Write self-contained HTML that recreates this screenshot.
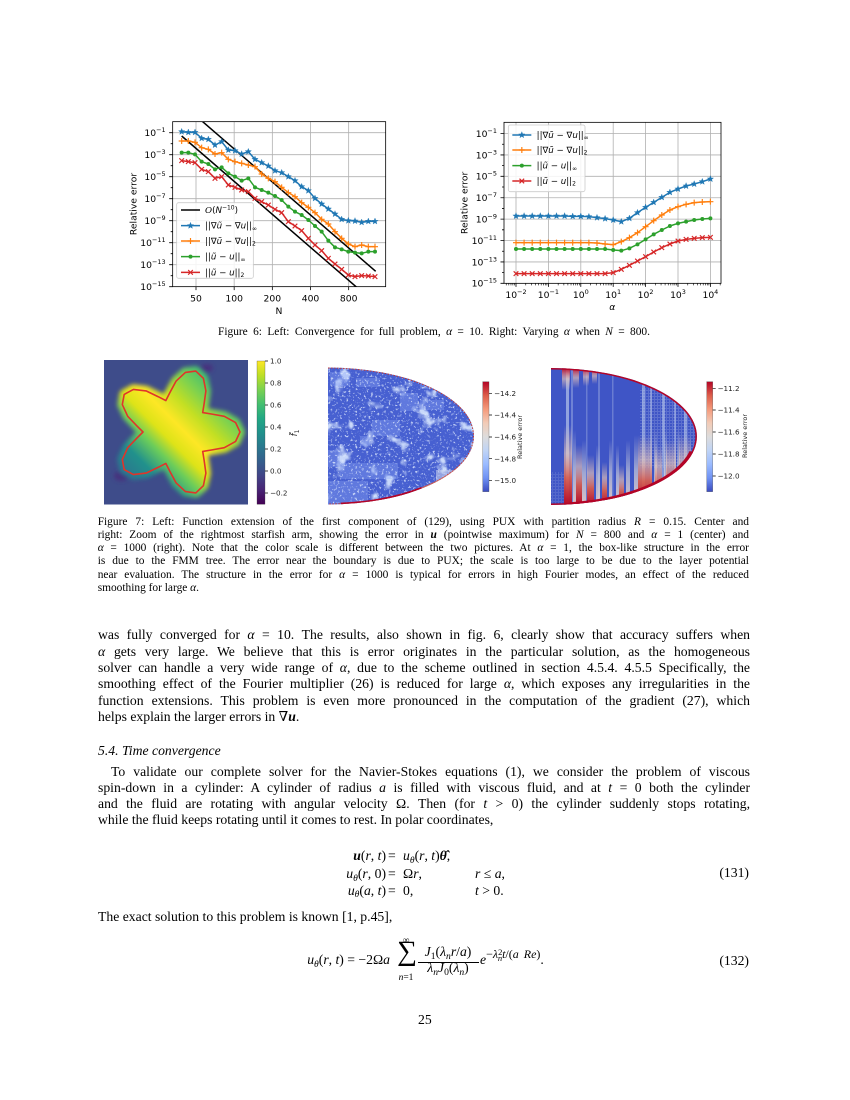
<!DOCTYPE html>
<html><head><meta charset="utf-8">
<style>
html,body{margin:0;padding:0;background:#fff;}
body{width:850px;height:1100px;position:relative;overflow:hidden;font-family:"Liberation Serif","DejaVu Serif",serif;color:#000;}
.l{position:absolute;white-space:nowrap;}
.j{text-align:justify;text-align-last:justify;}
.cap{font-size:11.4px;line-height:13.1px;}
.bd{font-size:13.7px;line-height:16.3px;}
.sb{font-size:0.7em;position:relative;top:0.3em;}
.sp{font-size:0.7em;position:relative;top:-0.45em;}
.sm{font-size:9.5px;line-height:10px;}
</style></head><body>
<svg width="850" height="1100" viewBox="0 0 850 1100" xmlns="http://www.w3.org/2000/svg" style="position:absolute;left:0;top:0">
<defs>
 <marker id="mStar" markerUnits="userSpaceOnUse" markerWidth="30" markerHeight="30" viewBox="0 0 30 30" refX="15" refY="15" overflow="visible"><polygon points="15,5 17.47,11.6 24.51,11.91 18.99,16.3 20.88,23.09 15,19.2 9.12,23.09 11.01,16.3 5.49,11.91 12.53,11.6" fill="#1f77b4" stroke="#1f77b4" stroke-width="1"/></marker>
 <marker id="mPlus" markerUnits="userSpaceOnUse" markerWidth="30" markerHeight="30" viewBox="0 0 30 30" refX="15" refY="15" overflow="visible"><path d="M6 15H24M15 6V24" stroke="#ff7f0e" stroke-width="3.5"/></marker>
 <marker id="mDot" markerUnits="userSpaceOnUse" markerWidth="30" markerHeight="30" viewBox="0 0 30 30" refX="15" refY="15" overflow="visible"><circle cx="15" cy="15" r="6" fill="#2ca02c"/></marker>
 <marker id="mX" markerUnits="userSpaceOnUse" markerWidth="30" markerHeight="30" viewBox="0 0 30 30" refX="15" refY="15" overflow="visible"><path d="M8 8L22 22M22 8L8 22" stroke="#d62728" stroke-width="3.5"/></marker>
 <clipPath id="clipL"><rect x="158" y="35" width="639" height="495"/></clipPath>
 <clipPath id="clipR"><rect x="147" y="37" width="651" height="483"/></clipPath>
 <clipPath id="clipS"><rect x="104" y="360" width="144" height="144.5"/></clipPath>
 <clipPath id="clipC"><path d="M328,367.5 A146,68.5 0 0 1 328,504.5 Z"/></clipPath>
 <clipPath id="clipH"><path d="M551,368 A146,68.5 0 0 1 551,505 Z"/></clipPath>
 <linearGradient id="vir" x1="0" y1="0" x2="0" y2="1">
  <stop offset="0" stop-color="#fde725"/><stop offset="0.1" stop-color="#bddf26"/><stop offset="0.2" stop-color="#7ad151"/><stop offset="0.3" stop-color="#44bf70"/><stop offset="0.4" stop-color="#22a884"/><stop offset="0.5" stop-color="#21918c"/><stop offset="0.6" stop-color="#2a788e"/><stop offset="0.7" stop-color="#355f8d"/><stop offset="0.8" stop-color="#414487"/><stop offset="0.9" stop-color="#482475"/><stop offset="1" stop-color="#440154"/>
 </linearGradient>
 <linearGradient id="cw" x1="0" y1="0" x2="0" y2="1">
  <stop offset="0" stop-color="#b40426"/><stop offset="0.125" stop-color="#dc5d4a"/><stop offset="0.25" stop-color="#f49a7b"/><stop offset="0.375" stop-color="#f2cbb7"/><stop offset="0.5" stop-color="#dddcdc"/><stop offset="0.625" stop-color="#c0d4f5"/><stop offset="0.75" stop-color="#9abbff"/><stop offset="0.875" stop-color="#6f92f3"/><stop offset="1" stop-color="#3b4cc0"/>
 </linearGradient>
 <linearGradient id="gStar" gradientUnits="userSpaceOnUse" x1="130.7" y1="477.3" x2="221.3" y2="386.7">
  <stop offset="0" stop-color="#2a788e"/><stop offset="0.15" stop-color="#21918c"/><stop offset="0.3" stop-color="#6ccd5a"/><stop offset="0.42" stop-color="#dde318"/><stop offset="0.55" stop-color="#fde725"/><stop offset="0.7" stop-color="#c2df23"/><stop offset="0.85" stop-color="#7ad151"/><stop offset="1" stop-color="#3bbb75"/>
 </linearGradient>
 <linearGradient id="gRedUp" x1="0" y1="0" x2="0" y2="1"><stop offset="0" stop-color="#f2cbb7" stop-opacity="0"/><stop offset="0.35" stop-color="#f2cbb7" stop-opacity="0.6"/><stop offset="0.65" stop-color="#dc5d4a" stop-opacity="0.9"/><stop offset="1" stop-color="#b40426" stop-opacity="1"/></linearGradient>
 <linearGradient id="gLightUp" x1="0" y1="0" x2="0" y2="1"><stop offset="0" stop-color="#dddcdc" stop-opacity="0"/><stop offset="0.5" stop-color="#dddcdc" stop-opacity="0.6"/><stop offset="1" stop-color="#eed0c4" stop-opacity="0.9"/></linearGradient>
 <linearGradient id="gRedDown" x1="0" y1="0" x2="0" y2="1"><stop offset="0" stop-color="#b40426" stop-opacity="1"/><stop offset="0.5" stop-color="#f2cbb7" stop-opacity="0.6"/><stop offset="1" stop-color="#f2cbb7" stop-opacity="0"/></linearGradient>
 <pattern id="pgrid" width="3" height="3" patternUnits="userSpaceOnUse"><rect width="3" height="1" fill="#c8d2ee"/><rect width="1" height="3" fill="#c8d2ee"/></pattern>
 <filter id="blur3" x="-20%" y="-20%" width="140%" height="140%"><feGaussianBlur stdDeviation="2.2"/></filter>
 <filter id="blur2" x="-50%" y="-50%" width="200%" height="200%"><feGaussianBlur stdDeviation="2"/></filter>
 <filter id="speck" x="0" y="0" width="1" height="1"><feTurbulence type="fractalNoise" baseFrequency="0.45" numOctaves="2" seed="7"/><feColorMatrix type="matrix" values="0 0 0 0 0.7  0 0 0 0 0.78  0 0 0 0 0.97  6 0 0 0 -3.5"/></filter>
 <filter id="blot" x="0" y="0" width="1" height="1"><feTurbulence type="fractalNoise" baseFrequency="0.06" numOctaves="3" seed="3"/><feColorMatrix type="matrix" values="0 0 0 0 0.58  0 0 0 0 0.69  0 0 0 0 0.96  6 0 0 0 -3.6"/></filter>
</defs>

<!-- ============ LEFT PLOT ============ -->
<g transform="translate(120,110) scale(0.3333333)" font-family="DejaVu Sans" fill="#000">
 <g stroke="#b0b0b0" stroke-width="2.4">
  <path d="M228 35V530M342.5 35V530M457 35V530M571.5 35V530M686 35V530"/>
  <path d="M158 68H797M158 134H797M158 200H797M158 266H797M158 332H797M158 398H797M158 464H797"/>
 </g>
 <g clip-path="url(#clipL)" fill="none" stroke-linejoin="round">
  <polyline points="185,-19.5 767,484" stroke="#000" stroke-width="4.5"/>
  <polyline points="185,78 767,581" stroke="#000" stroke-width="4.5"/>
  <polyline stroke="#1f77b4" stroke-width="4.5" marker-start="url(#mStar)" marker-mid="url(#mStar)" marker-end="url(#mStar)" points="185,65 205,67 225,67 245,85 265,88 285,105 305,95 325,120 345,122 365,132 385,125 405,148 425,158 445,168 465,182 485,188 505,200 525,212 545,230 565,242 585,265 605,282 625,297 645,312 665,328 685,332 705,333 725,337 745,334 765,334"/>
  <polyline stroke="#ff7f0e" stroke-width="4.5" marker-start="url(#mPlus)" marker-mid="url(#mPlus)" marker-end="url(#mPlus)" points="185,93 205,93 225,97 245,113 265,118 285,132 305,128 325,148 345,155 365,160 385,165 405,170 425,192 445,205 465,215 485,232 505,248 525,260 545,278 565,292 585,308 605,328 625,342 645,365 665,385 685,402 705,410 725,405 745,410 765,410"/>
  <polyline stroke="#2ca02c" stroke-width="4.5" marker-start="url(#mDot)" marker-mid="url(#mDot)" marker-end="url(#mDot)" points="185,128 205,128 225,133 245,155 265,162 285,178 305,172 325,190 345,200 365,212 385,205 405,232 425,240 445,248 465,258 485,270 505,290 525,305 545,315 565,330 585,348 605,365 625,392 645,412 665,418 685,425 705,428 725,430 745,425 765,425"/>
  <polyline stroke="#d62728" stroke-width="4.5" marker-start="url(#mX)" marker-mid="url(#mX)" marker-end="url(#mX)" points="185,152 205,155 225,158 245,178 265,185 285,205 305,200 325,225 345,232 365,240 385,245 405,265 425,275 445,285 465,298 485,308 505,335 525,348 545,362 565,385 585,405 605,422 625,445 645,462 665,478 685,495 705,500 725,497 745,498 765,500"/>
 </g>
 <rect x="158" y="35" width="639" height="495" fill="none" stroke="#000" stroke-width="2.4"/>
 <g stroke="#000" stroke-width="2.4">
  <path d="M158 68h-10.5M158 134h-10.5M158 200h-10.5M158 266h-10.5M158 332h-10.5M158 398h-10.5M158 464h-10.5M158 530h-10.5"/>
  <path d="M158 101h-6M158 167h-6M158 233h-6M158 299h-6M158 365h-6M158 431h-6M158 497h-6"/>
  <path d="M228 530v10.5M342.5 530v10.5M457 530v10.5M571.5 530v10.5M686 530v10.5"/>
 </g>
 <g font-size="27.6" text-anchor="end">
  <text x="137" y="78">10<tspan font-size="19.5" dy="-12">−1</tspan></text>
  <text x="137" y="144">10<tspan font-size="19.5" dy="-12">−3</tspan></text>
  <text x="137" y="210">10<tspan font-size="19.5" dy="-12">−5</tspan></text>
  <text x="137" y="276">10<tspan font-size="19.5" dy="-12">−7</tspan></text>
  <text x="137" y="342">10<tspan font-size="19.5" dy="-12">−9</tspan></text>
  <text x="137" y="408">10<tspan font-size="19.5" dy="-12">−11</tspan></text>
  <text x="137" y="474">10<tspan font-size="19.5" dy="-12">−13</tspan></text>
  <text x="137" y="540">10<tspan font-size="19.5" dy="-12">−15</tspan></text>
 </g>
 <g font-size="27.6" text-anchor="middle">
  <text x="228" y="574">50</text><text x="342.5" y="574">100</text><text x="457" y="574">200</text><text x="571.5" y="574">400</text><text x="686" y="574">800</text>
  <text x="477" y="612">N</text>
  <text transform="translate(49,282) rotate(-90)">Relative error</text>
 </g>
 <rect x="170" y="278" width="230" height="227" rx="6" fill="#fff" fill-opacity="0.85" stroke="#cccccc" stroke-width="2.4"/>
 <g fill="none" stroke-width="4.5">
  <polyline points="183,300 240,300" stroke="#000"/>
  <polyline points="183,347 211.5,347 240,347" stroke="#1f77b4" marker-mid="url(#mStar)"/>
  <polyline points="183,393 211.5,393 240,393" stroke="#ff7f0e" marker-mid="url(#mPlus)"/>
  <polyline points="183,440 211.5,440 240,440" stroke="#2ca02c" marker-mid="url(#mDot)"/>
  <polyline points="183,487 211.5,487 240,487" stroke="#d62728" marker-mid="url(#mX)"/>
 </g>
 <g font-size="26">
  <text x="255" y="309"><tspan font-family="DejaVu Serif" font-style="italic">O</tspan>(<tspan font-style="italic">N</tspan><tspan font-size="18" dy="-11">−10</tspan><tspan dy="11">)</tspan></text>
  <text x="255" y="356">||∇<tspan font-style="italic">ũ</tspan> − ∇<tspan font-style="italic">u</tspan>||<tspan font-size="18" dy="5">∞</tspan></text>
  <text x="255" y="402">||∇<tspan font-style="italic">ũ</tspan> − ∇<tspan font-style="italic">u</tspan>||<tspan font-size="18" dy="5">2</tspan></text>
  <text x="255" y="449">||<tspan font-style="italic">ũ</tspan> − <tspan font-style="italic">u</tspan>||<tspan font-size="18" dy="5">∞</tspan></text>
  <text x="255" y="496">||<tspan font-style="italic">ũ</tspan> − <tspan font-style="italic">u</tspan>||<tspan font-size="18" dy="5">2</tspan></text>
 </g>
</g>

<!-- ============ RIGHT PLOT ============ -->
<g transform="translate(455,110) scale(0.3333333)" font-family="DejaVu Sans" fill="#000">
 <g stroke="#b0b0b0" stroke-width="2.4">
  <path d="M183 37V520M280.2 37V520M377.4 37V520M474.6 37V520M571.8 37V520M669 37V520M766.2 37V520"/>
  <path d="M147 70.6H798M147 134.8H798M147 199H798M147 263.2H798M147 327.4H798M147 391.6H798M147 455.8H798"/>
 </g>
 <g clip-path="url(#clipR)" fill="none" stroke-linejoin="round">
  <polyline stroke="#1f77b4" stroke-width="4.5" marker-start="url(#mStar)" marker-mid="url(#mStar)" marker-end="url(#mStar)" points="183,318 207.3,318 231.6,318 255.9,318 280.2,318 304.5,318 328.8,318 353.1,319 377.4,319 401.7,320 426,323 450.3,326 474.6,330 498.9,335 523.2,325 547.5,308 571.8,292 596.1,277 620.4,262 644.7,247 669,237 693.3,228 717.6,222 741.9,215 766.2,207"/>
  <polyline stroke="#ff7f0e" stroke-width="4.5" marker-start="url(#mPlus)" marker-mid="url(#mPlus)" marker-end="url(#mPlus)" points="183,398 207.3,398 231.6,398 255.9,398 280.2,398 304.5,398 328.8,398 353.1,398 377.4,398 401.7,398 426,399 450.3,402 474.6,404 498.9,395 523.2,383 547.5,368 571.8,350 596.1,332 620.4,315 644.7,300 669,290 693.3,283 717.6,278 741.9,276 766.2,275"/>
  <polyline stroke="#2ca02c" stroke-width="4.5" marker-start="url(#mDot)" marker-mid="url(#mDot)" marker-end="url(#mDot)" points="183,417 207.3,417 231.6,417 255.9,417 280.2,417 304.5,417 328.8,417 353.1,417 377.4,417 401.7,417 426,417 450.3,417 474.6,420 498.9,422 523.2,415 547.5,403 571.8,388 596.1,373 620.4,360 644.7,348 669,340 693.3,335 717.6,330 741.9,327 766.2,325"/>
  <polyline stroke="#d62728" stroke-width="4.5" marker-start="url(#mX)" marker-mid="url(#mX)" marker-end="url(#mX)" points="183,491 207.3,491 231.6,491 255.9,491 280.2,491 304.5,491 328.8,491 353.1,491 377.4,491 401.7,491 426,491 450.3,491 474.6,488 498.9,478 523.2,466 547.5,453 571.8,440 596.1,426 620.4,413 644.7,402 669,393 693.3,388 717.6,385 741.9,383 766.2,382"/>
 </g>
 <rect x="147" y="37" width="651" height="483" fill="none" stroke="#000" stroke-width="2.4"/>
 <g stroke="#000" stroke-width="2.4">
  <path d="M147 70.6h-10.5M147 134.8h-10.5M147 199h-10.5M147 263.2h-10.5M147 327.4h-10.5M147 391.6h-10.5M147 455.8h-10.5M147 520h-10.5"/>
  <path d="M147 102.7h-6M147 166.9h-6M147 231.1h-6M147 295.3h-6M147 359.5h-6M147 423.7h-6M147 487.9h-6"/>
  <path d="M183 520v10.5M280.2 520v10.5M377.4 520v10.5M474.6 520v10.5M571.8 520v10.5M669 520v10.5M766.2 520v10.5"/>
  <path stroke-width="1.8" d="M153.7 520v6M161.4 520v6M167.9 520v6M173.6 520v6M178.5 520v6M212.3 520v6M229.4 520v6M241.5 520v6M250.9 520v6M258.6 520v6M265.1 520v6M270.8 520v6M275.7 520v6M309.5 520v6M326.6 520v6M338.7 520v6M348.1 520v6M355.8 520v6M362.3 520v6M368 520v6M372.9 520v6M406.7 520v6M423.8 520v6M435.9 520v6M445.3 520v6M453 520v6M459.5 520v6M465.2 520v6M470.1 520v6M503.9 520v6M521 520v6M533.1 520v6M542.5 520v6M550.2 520v6M556.7 520v6M562.4 520v6M567.3 520v6M601.1 520v6M618.2 520v6M630.3 520v6M639.7 520v6M647.4 520v6M653.9 520v6M659.6 520v6M664.5 520v6M698.3 520v6M715.4 520v6M727.5 520v6M736.9 520v6M744.6 520v6M751.1 520v6M756.8 520v6M761.7 520v6M795.5 520v6"/>
 </g>
 <g font-size="27.6" text-anchor="end">
  <text x="126" y="80.6">10<tspan font-size="19.5" dy="-12">−1</tspan></text>
  <text x="126" y="144.8">10<tspan font-size="19.5" dy="-12">−3</tspan></text>
  <text x="126" y="209">10<tspan font-size="19.5" dy="-12">−5</tspan></text>
  <text x="126" y="273.2">10<tspan font-size="19.5" dy="-12">−7</tspan></text>
  <text x="126" y="337.4">10<tspan font-size="19.5" dy="-12">−9</tspan></text>
  <text x="126" y="401.6">10<tspan font-size="19.5" dy="-12">−11</tspan></text>
  <text x="126" y="465.8">10<tspan font-size="19.5" dy="-12">−13</tspan></text>
  <text x="126" y="530">10<tspan font-size="19.5" dy="-12">−15</tspan></text>
 </g>
 <g font-size="27.6" text-anchor="middle">
  <text x="183" y="564">10<tspan font-size="19.5" dy="-12">−2</tspan></text>
  <text x="280.2" y="564">10<tspan font-size="19.5" dy="-12">−1</tspan></text>
  <text x="377.4" y="564">10<tspan font-size="19.5" dy="-12">0</tspan></text>
  <text x="474.6" y="564">10<tspan font-size="19.5" dy="-12">1</tspan></text>
  <text x="571.8" y="564">10<tspan font-size="19.5" dy="-12">2</tspan></text>
  <text x="669" y="564">10<tspan font-size="19.5" dy="-12">3</tspan></text>
  <text x="766.2" y="564">10<tspan font-size="19.5" dy="-12">4</tspan></text>
  <text x="472" y="600" font-style="italic">α</text>
  <text transform="translate(38,278.5) rotate(-90)">Relative error</text>
 </g>
 <rect x="160" y="45" width="230" height="200" rx="6" fill="#fff" fill-opacity="0.85" stroke="#cccccc" stroke-width="2.4"/>
 <g fill="none" stroke-width="4.5">
  <polyline points="172,75 200.5,75 229,75" stroke="#1f77b4" marker-mid="url(#mStar)"/>
  <polyline points="172,120 200.5,120 229,120" stroke="#ff7f0e" marker-mid="url(#mPlus)"/>
  <polyline points="172,167 200.5,167 229,167" stroke="#2ca02c" marker-mid="url(#mDot)"/>
  <polyline points="172,213 200.5,213 229,213" stroke="#d62728" marker-mid="url(#mX)"/>
 </g>
 <g font-size="26">
  <text x="245" y="84">||∇<tspan font-style="italic">ũ</tspan> − ∇<tspan font-style="italic">u</tspan>||<tspan font-size="18" dy="5">∞</tspan></text>
  <text x="245" y="129">||∇<tspan font-style="italic">ũ</tspan> − ∇<tspan font-style="italic">u</tspan>||<tspan font-size="18" dy="5">2</tspan></text>
  <text x="245" y="176">||<tspan font-style="italic">ũ</tspan> − <tspan font-style="italic">u</tspan>||<tspan font-size="18" dy="5">∞</tspan></text>
  <text x="245" y="222">||<tspan font-style="italic">ũ</tspan> − <tspan font-style="italic">u</tspan>||<tspan font-size="18" dy="5">2</tspan></text>
 </g>
</g>

<!-- ============ FIGURE 7 ============ -->
<!-- starfish -->
<g clip-path="url(#clipS)">
 <rect x="104" y="360" width="144" height="144.5" fill="#3e4c8a"/>
 <ellipse cx="121" cy="476" rx="7" ry="5" fill="#46327e" filter="url(#blur2)"/>
 <ellipse cx="207" cy="368" rx="6" ry="4" fill="#46327e" filter="url(#blur2)"/>
 <polygon points="240,432 235.6,441.4 224.3,447.7 211.4,450 202.7,451.4 204.1,460.1 205.9,473.1 203.4,485.7 195.8,492.9 185.4,491.6 176,482.8 169.8,471.2 165.8,463.4 158,467.4 146.1,473.1 133.4,474.6 124.2,469.6 122.3,459.4 127.7,447.7 136.8,438.2 143,432 136.8,425.8 127.7,416.3 122.3,404.6 124.2,394.4 133.4,389.4 146.1,390.9 158,396.6 165.8,400.6 169.8,392.8 176,381.2 185.4,372.4 195.8,371.1 203.4,378.3 205.9,390.9 204.1,403.9 202.7,412.6 211.4,414 224.3,416.3 235.6,422.6" fill="none" stroke="url(#gStar)" stroke-width="10" stroke-linejoin="round" filter="url(#blur3)"/>
 <polygon points="240,432 235.6,441.4 224.3,447.7 211.4,450 202.7,451.4 204.1,460.1 205.9,473.1 203.4,485.7 195.8,492.9 185.4,491.6 176,482.8 169.8,471.2 165.8,463.4 158,467.4 146.1,473.1 133.4,474.6 124.2,469.6 122.3,459.4 127.7,447.7 136.8,438.2 143,432 136.8,425.8 127.7,416.3 122.3,404.6 124.2,394.4 133.4,389.4 146.1,390.9 158,396.6 165.8,400.6 169.8,392.8 176,381.2 185.4,372.4 195.8,371.1 203.4,378.3 205.9,390.9 204.1,403.9 202.7,412.6 211.4,414 224.3,416.3 235.6,422.6" fill="url(#gStar)" stroke="#e0342a" stroke-width="1.6" stroke-linejoin="round"/>
</g>
<rect x="257" y="361" width="8" height="143.3" fill="url(#vir)" stroke="#444" stroke-width="0.3"/>
<g stroke="#000" stroke-width="0.7"><path d="M265 361h3M265 383h3M265 405h3M265 427h3M265 449h3M265 471h3M265 493h3"/></g>
<g font-family="DejaVu Sans" font-size="7.2" fill="#222">
 <text x="270" y="363.6">1.0</text><text x="270" y="385.6">0.8</text><text x="270" y="407.6">0.6</text><text x="270" y="429.6">0.4</text><text x="270" y="451.6">0.2</text><text x="270" y="473.6">0.0</text><text x="270" y="495.6">−0.2</text>
 <text transform="translate(297,433) rotate(-90)" text-anchor="middle" font-size="8.5" font-style="italic">f̃<tspan font-size="6" dy="2" font-style="normal">1</tspan></text>
</g>

<!-- center heatmap -->
<g clip-path="url(#clipC)">
 <rect x="328" y="367" width="147" height="138" fill="#4760d1"/>
 <rect x="328" y="367" width="147" height="138" filter="url(#blot)"/>
 <g fill="#8eaaf6" fill-opacity="0.35">
  <rect x="330" y="372" width="20" height="14"/><rect x="356" y="378" width="24" height="9"/>
  <rect x="372" y="420" width="28" height="16"/><rect x="328" y="450" width="12" height="17"/>
  <rect x="340" y="463" width="58" height="16"/><rect x="328" y="481" width="40" height="24"/>
  <rect x="400" y="393" width="18" height="18"/><rect x="420" y="375" width="28" height="14"/>
  <rect x="420" y="400" width="24" height="10"/><rect x="360" y="436" width="10" height="10"/>
 </g>
 <rect x="436" y="470" width="36" height="20" fill="#d4dbee" fill-opacity="0.55"/>
 <rect x="328" y="367" width="147" height="138" filter="url(#speck)" opacity="0.85"/>
 <path d="M328,367.5 A146,68.5 0 0 1 328,504.5" fill="none" stroke="#c43a33" stroke-width="2" stroke-dasharray="1.6 1.4"/>
 <path d="M340.7,504.2 A146,68.5 0 0 0 421.8,488.5" fill="none" stroke="#b40426" stroke-width="3.2"/>
 <path d="M421.8,488.5 A146,68.5 0 0 0 468,458" fill="none" stroke="#dd5f4b" stroke-width="2.5" stroke-opacity="0.8"/>
</g>
<rect x="482.7" y="381.7" width="6.3" height="110" fill="url(#cw)" stroke="#444" stroke-width="0.3"/>
<g stroke="#000" stroke-width="0.7"><path d="M489 393.3h3M489 415h3M489 437h3M489 458.7h3M489 480.3h3"/></g>
<g font-family="DejaVu Sans" font-size="7.2" fill="#222">
 <text x="494" y="395.9">−14.2</text><text x="494" y="417.6">−14.4</text><text x="494" y="439.6">−14.6</text><text x="494" y="461.3">−14.8</text><text x="494" y="482.9">−15.0</text>
 <text transform="translate(522,437) rotate(-90)" text-anchor="middle" font-size="6.5">Relative error</text>
</g>

<!-- right heatmap -->
<g clip-path="url(#clipH)">
 <rect x="551" y="367" width="147" height="139" fill="#3f55c6"/>
 <rect x="551" y="472" width="14" height="33" fill="url(#pgrid)" opacity="0.15"/>
 <rect x="640" y="388" width="57" height="80" fill="url(#pgrid)" opacity="0.22"/>
 <g fill="#c9d7f0">
  <rect x="566" y="368" width="3" height="137" fill-opacity="0.6"/>
  <rect x="571" y="368" width="2" height="137" fill-opacity="0.35"/>
  <rect x="586" y="368" width="1.5" height="137" fill-opacity="0.3"/>
  <rect x="598" y="368" width="2" height="137" fill-opacity="0.3"/>
  <rect x="612" y="368" width="1.5" height="137" fill-opacity="0.3"/>
  <rect x="642" y="380" width="3" height="125" fill-opacity="0.5"/>
  <rect x="650" y="380" width="2" height="125" fill-opacity="0.45"/>
  <rect x="662" y="385" width="3" height="120" fill-opacity="0.5"/>
  <rect x="674" y="390" width="2" height="115" fill-opacity="0.45"/>
  <rect x="684" y="395" width="3" height="105" fill-opacity="0.5"/>
 </g>
 <g fill="url(#gLightUp)">
  <rect x="573" y="430" width="3" height="75"/><rect x="582" y="440" width="4" height="65"/>
  <rect x="596" y="445" width="4" height="60"/><rect x="609" y="440" width="3" height="65"/>
  <rect x="616" y="445" width="3" height="60"/><rect x="626" y="440" width="4" height="65"/>
  <rect x="634" y="435" width="4" height="70"/><rect x="654" y="430" width="3" height="75"/>
  <rect x="664" y="430" width="3" height="75"/><rect x="677" y="430" width="3" height="75"/>
 </g>
 <g fill="url(#gRedUp)">
  <rect x="564" y="425" width="8" height="81"/><rect x="576" y="445" width="6" height="61"/>
  <rect x="587" y="455" width="7" height="51"/><rect x="602" y="462" width="5" height="44"/>
  <rect x="619" y="465" width="5" height="41"/><rect x="638" y="435" width="14" height="71"/>
  <rect x="655" y="445" width="7" height="61"/><rect x="666" y="440" width="10" height="66"/>
  <rect x="679" y="435" width="12" height="71"/>
 </g>
 <g fill="url(#gRedDown)">
  <rect x="562" y="368" width="8" height="22"/><rect x="573" y="368" width="6" height="20"/>
  <rect x="583" y="368" width="6" height="18"/><rect x="592" y="368" width="5" height="16"/>
 </g>
 <path d="M551,368 A146,68.5 0 0 1 551,505" fill="none" stroke="#b40426" stroke-width="3"/>
 <path d="M570,504.8 A146,68.5 0 0 0 692,452" fill="none" stroke="#b40426" stroke-width="5"/>
</g>
<rect x="706.7" y="381.7" width="6" height="110" fill="url(#cw)" stroke="#444" stroke-width="0.3"/>
<g stroke="#000" stroke-width="0.7"><path d="M712.7 388.3h3M712.7 410h3M712.7 432h3M712.7 454h3M712.7 476h3"/></g>
<g font-family="DejaVu Sans" font-size="7.2" fill="#222">
 <text x="717.5" y="390.9">−11.2</text><text x="717.5" y="412.6">−11.4</text><text x="717.5" y="434.6">−11.6</text><text x="717.5" y="456.6">−11.8</text><text x="717.5" y="478.6">−12.0</text>
 <text transform="translate(747,436) rotate(-90)" text-anchor="middle" font-size="6.5">Relative error</text>
</g>
</svg>

<!-- captions -->
<div class="l cap j" style="left:218px;top:325.8px;width:432px">Figure 6: Left: Convergence for full problem, <i>α</i> = 10. Right: Varying <i>α</i> when <i>N</i> = 800.</div>

<div class="l cap j" style="left:97.7px;top:516.1px;width:651.3px">Figure 7: Left: Function extension of the first component of (129), using PUX with partition radius <i>R</i> = 0.15. Center and</div>
<div class="l cap j" style="left:97.7px;top:529.2px;width:651.3px">right: Zoom of the rightmost starfish arm, showing the error in <b><i>u</i></b> (pointwise maximum) for <i>N</i> = 800 and <i>α</i> = 1 (center) and</div>
<div class="l cap j" style="left:97.7px;top:542.3px;width:651.3px"><i>α</i> = 1000 (right). Note that the color scale is different between the two pictures. At <i>α</i> = 1, the box-like structure in the error</div>
<div class="l cap j" style="left:97.7px;top:555.4px;width:651.3px">is due to the FMM tree. The error near the boundary is due to PUX; the scale is too large to be due to the layer potential</div>
<div class="l cap j" style="left:97.7px;top:568.5px;width:651.3px">near evaluation. The structure in the error for <i>α</i> = 1000 is typical for errors in high Fourier modes, an effect of the reduced</div>
<div class="l cap" style="left:97.7px;top:581.6px">smoothing for large <i>α</i>.</div>

<!-- body -->
<div class="l bd j" style="left:98px;top:627.4px;width:652px">was fully converged for <i>α</i> = 10. The results, also shown in fig. 6, clearly show that accuracy suffers when</div>
<div class="l bd j" style="left:98px;top:643.7px;width:652px"><i>α</i> gets very large. We believe that this is error originates in the particular solution, as the homogeneous</div>
<div class="l bd j" style="left:98px;top:660px;width:652px">solver can handle a very wide range of <i>α</i>, due to the scheme outlined in section 4.5.4. 4.5.5 Specifically, the</div>
<div class="l bd j" style="left:98px;top:676.3px;width:652px">smoothing effect of the Fourier multiplier (26) is reduced for large <i>α</i>, which exposes any irregularities in the</div>
<div class="l bd j" style="left:98px;top:692.6px;width:652px">function extensions. This problem is even more pronounced in the computation of the gradient (27), which</div>
<div class="l bd" style="left:98px;top:708.9px">helps explain the larger errors in ∇<b><i>u</i></b>.</div>

<div class="l bd" style="left:98px;top:743.3px"><i>5.4. Time convergence</i></div>

<div class="l bd j" style="left:111px;top:763.6px;width:639px">To validate our complete solver for the Navier-Stokes equations (1), we consider the problem of viscous</div>
<div class="l bd j" style="left:98px;top:779.7px;width:652px">spin-down in a cylinder: A cylinder of radius <i>a</i> is filled with viscous fluid, and at <i>t</i> = 0 both the cylinder</div>
<div class="l bd j" style="left:98px;top:795.8px;width:652px">and the fluid are rotating with angular velocity Ω. Then (for <i>t</i> &gt; 0) the cylinder suddenly stops rotating,</div>
<div class="l bd" style="left:98px;top:811.9px">while the fluid keeps rotating until it comes to rest. In polar coordinates,</div>

<!-- eq 131 -->
<div class="l bd" style="left:276px;width:110px;text-align:right;top:848.3px"><b><i>u</i></b>(<i>r</i>, <i>t</i>)</div>
<div class="l bd" style="left:388px;top:848.3px">=</div>
<div class="l bd" style="left:403px;top:848.3px"><i>u</i><span class="sb"><i>θ</i></span>(<i>r</i>, <i>t</i>)<b><i>θ̂</i></b>,</div>
<div class="l bd" style="left:276px;width:110px;text-align:right;top:865.9px"><i>u</i><span class="sb"><i>θ</i></span>(<i>r</i>, 0)</div>
<div class="l bd" style="left:388px;top:865.9px">=</div>
<div class="l bd" style="left:403px;top:865.9px">Ω<i>r</i>,</div>
<div class="l bd" style="left:475px;top:865.9px"><i>r</i> ≤ <i>a</i>,</div>
<div class="l bd" style="left:276px;width:110px;text-align:right;top:882.6px"><i>u</i><span class="sb"><i>θ</i></span>(<i>a</i>, <i>t</i>)</div>
<div class="l bd" style="left:388px;top:882.6px">=</div>
<div class="l bd" style="left:403px;top:882.6px">0,</div>
<div class="l bd" style="left:475px;top:882.6px"><i>t</i> &gt; 0.</div>
<div class="l bd" style="left:700px;width:49px;text-align:right;top:864.6px">(131)</div>

<div class="l bd" style="left:98px;top:909.3px">The exact solution to this problem is known [1, p.45],</div>

<!-- eq 132 -->
<div class="l bd" style="left:246px;width:144px;text-align:right;top:951.7px"><i>u</i><span class="sb"><i>θ</i></span>(<i>r</i>, <i>t</i>) = −2Ω<i>a</i></div>
<div class="l" style="left:397px;top:937.5px;font-size:28px;line-height:28px">∑</div>
<div class="l sm" style="left:396px;width:20px;text-align:center;top:936px">∞</div>
<div class="l sm" style="left:394px;width:24px;text-align:center;top:973px"><i>n</i>=1</div>
<div class="l bd" style="left:414px;width:68px;text-align:center;top:944.3px"><i>J</i><span class="sb">1</span>(<i>λ</i><span class="sb"><i>n</i></span><i>r</i>/<i>a</i>)</div>
<div class="l" style="left:418px;top:961.6px;width:61px;height:0.8px;background:#000"></div>
<div class="l bd" style="left:414px;width:68px;text-align:center;top:960.4px"><i>λ</i><span class="sb"><i>n</i></span><i>J</i><span class="sb">0</span>(<i>λ</i><span class="sb"><i>n</i></span>)</div>
<div class="l bd" style="left:480px;top:951.7px"><i>e</i><span style="font-size:12px;position:relative;top:-6px;word-spacing:2px">−<i>λ</i><span style="font-size:8.5px;position:relative;top:-3px">2</span><span style="font-size:8.5px;position:relative;top:3px;margin-left:-4.5px"><i>n</i></span><i>t</i>/(<i>a</i> <i>Re</i>)</span>.</div>
<div class="l bd" style="left:700px;width:49px;text-align:right;top:952.7px">(132)</div>

<div class="l bd" style="left:418px;top:1011.9px">25</div>
</body></html>
